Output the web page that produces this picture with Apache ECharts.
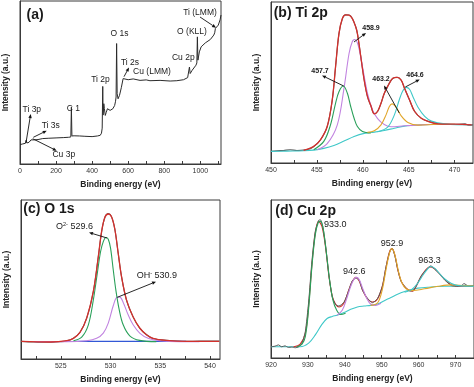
<!DOCTYPE html>
<html><head><meta charset="utf-8">
<script src="https://cdn.jsdelivr.net/npm/echarts@6/dist/echarts.min.js"></script>
<style>html,body{margin:0;padding:0;background:#fff}#c{width:474px;height:387px}</style>
</head><body><div id="c"></div>
<script>
// ---------- (a) survey ----------
const surveyTicks = [0,100,200,300,400,500,600,700,800,900,1000,1100];
const surveyLabels = [0,200,400,600,800,1000];
const survey = [[0,11.9],[15,12.3],[30,12.7],[34,14.6],[38,12.9],[50,13.3],[61,14.8],[66,14.2],[72,15.6],[80,14.8],[100,15.0],[126,15.6],[160,15.8],[200,16.0],[240,16.2],[270,16.4],[282,16.6],[285,34.9],[288,17.2],[292,16.8],[300,17.3],[310,17.6],[330,17.2],[360,17.0],[400,16.8],[430,17.2],[445,17.6],[452,18.9],[456,22],[459,47.6],[461,30],[465,37.0],[468,34.0],[473,29.8],[478,31.5],[485,33.9],[500,32.9],[515,33.9],[525,35.9],[530,38.5],[533,41.1],[536,73.9],[539,43.1],[544,40.0],[552,42.1],[562,46.8],[572,52.4],[580,53.0],[600,51.7],[628,52.2],[666,51.3],[700,51.6],[721,51.1],[777,51.3],[833,50.9],[870,51.1],[907,51.7],[930,53.0],[936,53.5],[940,59.5],[944,55.5],[948,55.9],[955,57.5],[965,58.5],[976,60.6],[981,62],[984,78.0],[987,63.7],[995,68.8],[1005,71.9],[1028,74.3],[1056,76.4],[1075,79.1],[1080,80.5],[1084,83.2],[1090,82.1],[1100,85.2],[1110,88.5],[1115,91.4]];

// ---------- (b) Ti 2p ----------
const tiTicks = [450,452.5,455,457.5,460,462.5,465,467.5,470];
const tiLabels = [450,455,460,465,470];
const tiRaw = [[450,7.2],[450.62,7.6],[451.36,7.8],[452.09,8.2],[452.82,7.8],[453.55,8.0],[454.29,8.9],[454.65,10.2],[455.38,14.3],[456.12,22.6],[456.67,39.0],[457.03,59.6],[457.40,80.2],[457.77,89.5],[458.13,92.0],[458.50,91.9],[458.86,89.8],[459.23,84.6],[459.41,80.5],[459.78,66.1],[460.15,51.6],[460.51,41.3],[460.88,35.4],[461.25,30.6],[461.61,32.1],[461.98,37.0],[462.34,43.2],[462.89,49.6],[463.26,52.5],[463.74,53.3],[464.18,51.4],[464.54,46.5],[465.09,39.1],[465.64,32.1],[466.37,27.7],[467.11,25.9],[468.21,24.3],[469.67,23.9],[471.14,24.3],[471.5,23.5],[472,23.7]];
const tiEnv = [[453.55,7.8],[454.65,10.3],[455.38,14.4],[456.12,22.7],[456.67,39.2],[457.03,59.8],[457.40,80.4],[457.77,89.7],[458.13,92.0],[458.50,91.8],[458.86,89.7],[459.23,84.5],[459.41,80.4],[459.78,66.0],[460.15,51.5],[460.51,41.2],[460.88,35.5],[461.25,30.5],[461.61,32.0],[461.98,37.1],[462.34,43.3],[462.89,49.5],[463.26,52.6],[463.74,53.2],[464.18,51.5],[464.54,46.4],[465.09,39.2],[465.64,32.0],[466.37,27.8],[467.11,25.8],[468.21,24.3],[470.04,24.1],[471.87,23.7]];
const tiBg = [[450,7.2],[451.72,7.4],[453.55,7.6],[454.65,8.0],[455.75,9.1],[456.85,10.9],[457.95,13.6],[459.05,16.5],[460.15,18.4],[461.25,19.2],[462.34,20.2],[463.44,21.6],[464.54,22.9],[466.37,23.7],[468.21,24.1],[471.87,23.9]];
const ti4577 = [[454.65,8.2],[455.75,13.4],[456.48,23.7],[457.03,37.1],[457.40,44.3],[457.88,47.8],[458.32,43.3],[458.68,35.1],[459.05,27.8],[459.41,22.7],[459.96,19.6],[460.88,18.6]];
const ti4589 = [[455.02,8.2],[456.12,12.0],[457.22,23.7],[457.95,46.4],[458.50,68.0],[458.86,75.5],[459.12,76.7],[459.49,73.2],[459.96,59.8],[460.51,43.3],[461.06,33.0],[461.61,27.6],[462.34,23.9],[463.08,22.5],[464.54,23.1],[466.37,23.7],[468.21,24.1],[471.87,23.9]];
const ti4632 = [[460.51,19.0],[461.25,20.0],[461.98,23.7],[462.53,29.9],[462.89,35.1],[463.19,36.7],[463.63,34.6],[464.18,29.3],[464.91,25.2],[466.01,23.5],[468.21,24.1],[470.04,24.1]];
const ti4646 = [[461.61,19.4],[462.71,22.3],[463.44,29.9],[463.99,39.6],[464.36,44.9],[464.73,47.0],[465.09,45.8],[465.46,41.2],[466.01,34.6],[466.74,28.9],[467.47,26.0],[468.94,24.3],[471.87,23.7]];

// ---------- (c) O 1s ----------
const oTicks = [522.5,525,527.5,530,532.5,535,537.5,540];
const oLabels = [525,530,535,540];
const oRaw = [[521.03,11.1],[522.27,10.7],[523.6,10.5],[524.93,10.9],[525.6,11.4],[526.27,13.1],[526.93,16.8],[527.6,25.6],[528.27,42.4],[528.77,64.2],[529.1,80.0],[529.43,89.0],[529.77,91.4],[530.1,89.4],[530.43,81.7],[530.77,66.4],[531.1,52.0],[531.6,37.1],[532.27,26.5],[532.93,19.4],[533.6,15.4],[534.27,12.9],[535.6,11.8],[537.6,11.1],[538.93,11.3],[540.93,11.3]];
const oEnv = [[521.03,11.1],[523.93,10.7],[525.6,11.5],[526.27,13.0],[526.93,16.7],[527.6,25.7],[528.27,42.5],[528.77,64.4],[529.1,80.1],[529.43,89.1],[529.77,91.2],[530.1,89.5],[530.43,81.6],[530.77,66.5],[531.1,51.9],[531.6,37.2],[532.27,26.4],[532.93,19.5],[533.6,15.3],[534.27,13.0],[535.6,11.7],[537.6,11.1],[540.93,11.1]];
const oLattice = [[526.27,11.5],[527.1,13.8],[527.77,21.5],[528.27,37.2],[528.67,54.0],[529.0,67.6],[529.27,73.8],[529.53,76.4],[529.77,75.3],[530.0,69.7],[530.27,56.1],[530.53,43.5],[530.87,31.0],[531.27,21.5],[531.93,14.6],[532.93,11.7],[534.6,10.9]];
const oHydroxyl = [[522.27,10.9],[525.6,10.9],[527.6,11.5],[528.6,13.0],[529.27,16.3],[529.77,22.6],[530.27,33.5],[530.67,38.9],[530.93,38.9],[531.27,35.6],[531.77,27.8],[532.27,21.5],[532.93,16.3],[533.77,13.0],[534.93,11.5],[536.93,10.9],[538.93,10.9]];
const oBg = [[526.6,11.1],[537.6,11.1]];

// ---------- (d) Cu 2p ----------
const cuTicks = [920,925,930,935,940,945,950,955,960,965,970,975];
const cuLabels = [920,930,940,950,960,970];
const cuRaw = [[920,7.1],[921.1,7.5],[922.0,8.3],[922.9,7.1],[923.8,7.7],[924.7,6.7],[925.6,6.9],[926.6,6.5],[927.5,7.1],[928.4,9.4],[929.3,16.7],[930.2,35.4],[931.1,61.5],[932.0,80.2],[932.9,87.1],[933.4,87.5],[934.1,82.3],[934.8,70.8],[935.7,52.1],[936.6,38.5],[937.5,33.8],[938.4,32.9],[939.8,35.4],[941.1,43.0],[942.0,48.8],[943.0,50.6],[943.9,49.2],[944.8,42.8],[946.1,37.9],[947.5,35.0],[948.9,37.8],[950.2,45.5],[951.1,57.0],[952.1,66.8],[952.8,69.6],[953.6,64.2],[954.3,56.6],[955.2,48.7],[956.2,45.4],[957.5,42.5],[958.4,42.6],[959.3,45.1],[960.7,52.0],[962.1,56.0],[963.3,58.3],[964.4,56.0],[965.7,53.4],[967.1,49.3],[968.9,45.8],[970.7,45.4],[971.6,45.8],[972.3,47.1],[972.9,46.3],[973.6,45.4],[975,45.8]];
const cuEnv = [[926.1,7.1],[927.9,8.8],[929.3,15.6],[930.2,33.3],[931.1,59.4],[932.0,79.2],[932.9,86.5],[933.8,83.3],[934.8,69.8],[935.7,51.7],[936.6,39.2],[937.5,34.0],[938.4,32.3],[939.8,35.0],[941.1,43.3],[942.0,48.3],[943.0,51.0],[943.9,48.8],[944.8,43.1],[946.1,37.5],[947.5,35.4],[948.9,37.5],[950.2,45.8],[951.1,56.7],[952.1,67.1],[952.8,69.2],[953.6,64.6],[954.3,56.3],[955.2,49.0],[956.2,45.2],[957.5,42.7],[958.4,42.3],[959.3,45.4],[960.7,51.7],[962.1,56.3],[963.3,57.7],[964.4,56.3],[965.7,53.1],[967.1,49.6],[968.5,46.9],[969.8,45.8],[971.6,45.4],[974.4,45.4]];
const cuBg = [[920,7.1],[927.9,7.1],[930.2,9.4],[932.0,14.6],[933.8,21.3],[935.2,25.0],[936.6,26.3],[937.9,27.1],[939.8,28.8],[941.6,30.8],[943.4,32.3],[945.2,32.9],[947.0,33.3],[948.9,34.2],[950.7,36.3],[952.5,38.3],[954.3,40.4],[956.2,42.1],[958.0,43.3],[959.8,44.2],[962.5,44.8],[967.1,45.4],[975,45.6]];
const cu9330 = [[927.0,6.9],[928.4,8.8],[929.3,13.5],[930.2,31.3],[931.1,58.3],[932.0,78.1],[932.8,85.8],[933.4,86.5],[934.1,82.3],[935.0,66.7],[935.9,49.0],[936.8,36.5],[937.8,30.2],[938.9,27.5],[940.2,28.3]];
const cu9426 = [[937.9,27.1],[939.3,30.2],[940.5,37.5],[941.6,45.4],[942.5,50.0],[943.1,51.0],[943.9,49.6],[944.8,44.2],[946.0,37.5],[947.0,34.2],[948.4,33.3],[949.8,34.6]];
const cu9529 = [[947.0,33.3],[948.9,35.0],[950.2,43.8],[951.1,55.2],[952.1,66.3],[952.8,69.2],[953.6,65.0],[954.5,55.2],[955.4,47.9],[956.6,43.8],[958.4,42.7],[961.6,43.8],[965.3,45.4],[968.9,46.3],[972.5,45.8],[975,45.6]];
const cu9633 = [[956.2,41.7],[958.0,43.1],[959.8,47.5],[961.2,52.5],[962.4,56.3],[963.3,57.9],[964.4,56.7],[965.7,53.3],[967.1,50.0],[968.9,47.1],[970.7,45.8],[975,45.4]];

// ---------- styling ----------
const FF = '"Liberation Sans", Arial, sans-serif';
const AX = '#3a3a3a';
const C = {gray:'#5a5a5a', red:'#d3302c', green:'#2aa05a', purple:'#c183e0', orange:'#e1a62a', cyan:'#3fc8c8', blue:'#3358d6', dark:'#2b2b2b'};

const grids = [
  {left:20, top:1, width:201, height:163},
  {left:271, top:2, width:202, height:161},
  {left:21, top:200, width:199, height:159},
  {left:271, top:200, width:203, height:158}
].map(g => Object.assign({show:true, borderColor:AX, borderWidth:1, backgroundColor:'#fff'}, g));

function xAx(gi, min, max, labels, ticks){
  return {type:'value', gridIndex:gi, min:min, max:max,
    name:'Binding energy (eV)', nameLocation:'middle', nameGap:16,
    nameTextStyle:{fontFamily:FF, fontSize:8.5, fontWeight:'bold', color:'#222'},
    axisLine:{show:true, onZero:false, lineStyle:{color:AX, width:1}},
    axisTick:{show:true, inside:true, length:3, customValues:ticks, lineStyle:{color:AX}},
    axisLabel:{show:true, customValues:labels, formatter:function(v){return String(v);}, fontFamily:FF, fontSize:7, color:'#333', margin:4},
    splitLine:{show:false}};
}
function yAx(gi){
  return {type:'value', gridIndex:gi, min:0, max:100,
    name:'Intensity (a.u.)', nameLocation:'middle', nameGap:10, nameRotate:90,
    nameTextStyle:{fontFamily:FF, fontSize:8.5, fontWeight:'bold', color:'#222'},
    axisLine:{show:true, lineStyle:{color:AX, width:1}},
    axisTick:{show:false}, axisLabel:{show:false}, splitLine:{show:false}};
}
function ln(gi, data, color, w, smooth){
  return {type:'line', xAxisIndex:gi, yAxisIndex:gi, data:data, showSymbol:false, symbol:'none',
    smooth: smooth === undefined ? 0.35 : smooth, lineStyle:{color:color, width:w||1.1}, silent:true, animation:false};
}

// annotation helpers
function txt(x, y, text, size, bold, align){
  return {type:'text', x:x, y:y, silent:true, z:100,
    style:{text:text, fontFamily:FF, fontSize:size, fontWeight:bold?'bold':'normal', fill:'#1a1a1a',
      align:align||'center', verticalAlign:'middle', textAlign:align||'center', textVerticalAlign:'middle'}};
}
function arrow(x1, y1, x2, y2, col){
  const a = Math.atan2(y2-y1, x2-x1), L = 4, W = 1.7;
  const bx = x2 - L*Math.cos(a), by = y2 - L*Math.sin(a);
  const px = -Math.sin(a)*W, py = Math.cos(a)*W;
  return [
    {type:'line', silent:true, z:100, shape:{x1:x1, y1:y1, x2:bx, y2:by}, style:{stroke:col||'#111', lineWidth:0.9}},
    {type:'polygon', silent:true, z:100, shape:{points:[[x2,y2],[bx+px,by+py],[bx-px,by-py]]}, style:{fill:col||'#111'}}
  ];
}

const graphics = [
  txt(26.5, 15, '(a)', 14, true, 'left'),
  txt(200, 12.7, 'Ti (LMM)', 8.5), txt(192, 31.7, 'O (KLL)', 8.5), txt(183.3, 57.3, 'Cu 2p', 8.5),
  txt(152, 71.7, 'Cu (LMM)', 8.5), txt(130, 62.7, 'Ti 2s', 8.5), txt(119.5, 34, 'O 1s', 8.5),
  txt(100.5, 79.3, 'Ti 2p', 8.5), txt(73.3, 108.3, 'C 1', 8.5), txt(31.8, 110, 'Ti 3p', 8.5),
  txt(50.8, 126, 'Ti 3s', 8.5), txt(63.8, 155, 'Cu 3p', 8.5),
  ...arrow(200, 17, 216, 27.7), ...arrow(124, 76.7, 129, 67.5), ...arrow(26, 142.7, 30.7, 114),
  ...arrow(33.3, 137.3, 46.7, 130.7), ...arrow(32.7, 138.7, 56.7, 150.7),

  txt(273.7, 13.3, '(b) Ti 2p', 14, true, 'left'),
  txt(371, 28, '458.9', 7, true), txt(320, 70.7, '457.7', 7, true), txt(381, 79.5, '463.2', 7, true), txt(415, 75, '464.6', 7, true),
  ...arrow(354, 42, 366, 33), ...arrow(343.7, 86, 322, 75.5), ...arrow(399.3, 113, 384, 85.5), ...arrow(405.3, 87, 419.7, 79.5),

  txt(23.3, 209.3, '(c) O 1s', 14, true, 'left'),
  {type:'text', x:56, y:226.7, silent:true, z:100,
    style:{text:'{n|O}{s|2-}{n| 529.6}', fontFamily:FF, fontSize:9, fill:'#1a1a1a', align:'left', verticalAlign:'middle', textAlign:'left', textVerticalAlign:'middle',
      rich:{n:{fontFamily:FF, fontSize:9, fill:'#1a1a1a', color:'#1a1a1a'}, s:{fontFamily:FF, fontSize:5.5, fill:'#1a1a1a', color:'#1a1a1a', verticalAlign:'top', padding:[0,0,5,0]}}}},
  {type:'text', x:136.7, y:276, silent:true, z:100,
    style:{text:'{n|OH}{s|-}{n| 530.9}', fontFamily:FF, fontSize:9, fill:'#1a1a1a', align:'left', verticalAlign:'middle', textAlign:'left', textVerticalAlign:'middle',
      rich:{n:{fontFamily:FF, fontSize:9, fill:'#1a1a1a', color:'#1a1a1a'}, s:{fontFamily:FF, fontSize:5.5, fill:'#1a1a1a', color:'#1a1a1a', verticalAlign:'top', padding:[0,0,5,0]}}}},
  ...arrow(107, 238, 89, 232.5), ...arrow(117.3, 297.3, 156, 281.7),

  txt(275.3, 210.7, '(d) Cu 2p', 14, true, 'left'),
  txt(335.3, 225, '933.0', 9), txt(354.2, 271.7, '942.6', 9), txt(392, 243.3, '952.9', 9), txt(429.5, 260.7, '963.3', 9)
];

const option = {
  animation:false,
  backgroundColor:'#fff',
  grid: grids,
  xAxis: [xAx(0,0,1115,surveyLabels,surveyTicks), xAx(1,450,472,tiLabels,tiTicks), xAx(2,521,541,oLabels,oTicks), xAx(3,920,975,cuLabels,cuTicks)],
  yAxis: [yAx(0), yAx(1), yAx(2), yAx(3)],
  series: [
    ln(0, survey, C.dark, 1, false),

    ln(1, tiRaw, C.gray, 1.1),
    ln(1, tiBg, C.cyan, 1.1),
    ln(1, ti4589, C.purple, 1.1),
    ln(1, ti4577, C.green, 1.1),
    ln(1, ti4632, C.orange, 1.1),
    ln(1, ti4646, C.cyan, 1.1),
    ln(1, tiEnv, C.red, 1.3),

    ln(2, oRaw, C.gray, 1.1),
    ln(2, oBg, C.blue, 1.2, false),
    ln(2, oHydroxyl, C.purple, 1.1),
    ln(2, oLattice, C.green, 1.1),
    ln(2, oEnv, C.red, 1.3),

    ln(3, cuBg, C.cyan, 1.1),
    ln(3, cuEnv, C.red, 1.1),
    ln(3, cuRaw, C.gray, 1.0, 0.2),
    ln(3, cu9330, C.green, 1.1),
    ln(3, cu9426, C.purple, 1.1),
    ln(3, cu9529, C.orange, 1.1),
    ln(3, cu9633, C.cyan, 1.1)
  ],
  graphic: graphics
};
const chart = echarts.init(document.getElementById('c'), null, {renderer:'canvas'});
chart.setOption(option);
</script>
</body></html>
